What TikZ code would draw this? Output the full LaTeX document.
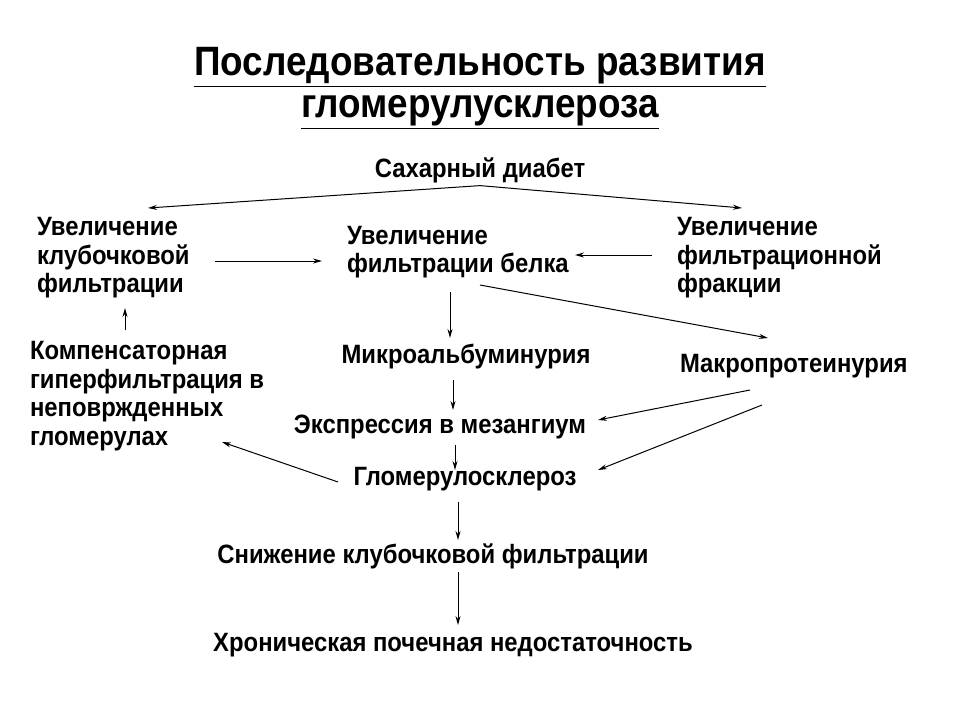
\documentclass[tikz,border=0pt]{standalone}
\usepackage{fontspec}
\setmainfont[FakeStretch=0.9]{Liberation Sans}
\usetikzlibrary{arrows.meta}
\begin{document}
\begin{tikzpicture}[x=1pt, y=-1pt,
    >={Stealth[length=9pt,width=5pt]},
    inner sep=0pt, outer sep=0pt,
    txt/.style={font=\fontsize{26.5}{28.5}\selectfont\bfseries, align=left},
    link/.style={->, line width=1pt},
]
    \useasboundingbox[fill=white] (0,0) rectangle (960,720);

    % Title
    \node[font=\fontsize{41}{42}\selectfont\bfseries, align=center] (title) at (480,88)
        {\underline{Последовательность развития}\\\underline{гломерулусклероза}};

    % Nodes
    \node[txt] (diab) at (480,170) {Сахарный диабет};
    \node[txt, anchor=west] (gfr) at (37,258) {Увеличение\\клубочковой\\фильтрации};
    \node[txt, anchor=west] (prot) at (347,252) {Увеличение\\фильтрации белка};
    \node[txt, anchor=west] (frac) at (677,258) {Увеличение\\фильтрационной\\фракции};
    \node[txt, anchor=west] (comp) at (30,396) {Компенсаторная\\гиперфильтрация в\\неповржденных\\гломерулах};
    \node[txt] (micro) at (466,357) {Микроальбуминурия};
    \node[txt, anchor=west] (macro) at (680,366) {Макропротеинурия};
    \node[txt] (expr) at (440,427) {Экспрессия в мезангиум};
    \node[txt] (glom) at (465,479) {Гломерулосклероз};
    \node[txt] (drop) at (433,556) {Снижение клубочковой фильтрации};
    \node[txt] (ckd) at (453,645) {Хроническая почечная недостаточность};

    % Connectors
    \draw[link] (diab.south) ++(0,3) -- (148,208);
    \draw[link] (diab.south) ++(0,3) -- (742,208);
    \draw[link] (215,261) -- (322,261);
    \draw[link] (652,255) -- (575,255);
    \draw[link] (125,330) -- (125,308);
    \draw[link] (450,292) -- (450,338);
    \draw[link] (480,285) -- (768,338);
    \draw[link] (453,380) -- (453,410);
    \draw[link] (750,390) -- (598,420);
    \draw[link] (762,405) -- (598,470);
    \draw[link] (455,445) -- (455,470);
    \draw[link] (338,482) -- (222,442);
    \draw[link] (458,502) -- (458,540);
    \draw[link] (458,572) -- (458,625);
\end{tikzpicture}
\end{document}
